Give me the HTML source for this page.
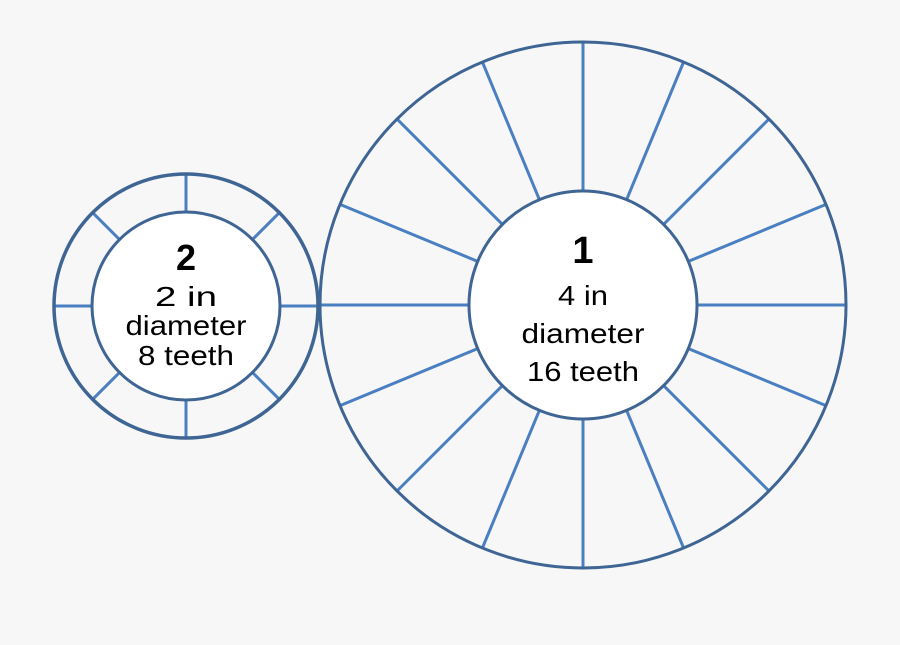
<!DOCTYPE html>
<html><head><meta charset="utf-8"><style>html,body{margin:0;padding:0;background:#f7f7f7}</style></head>
<body>
<svg width="900" height="640" viewBox="0 0 900 640" xmlns="http://www.w3.org/2000/svg" font-family="Liberation Sans, sans-serif">
<rect width="900" height="640" fill="#f7f7f7"/>
<g stroke="#4a7fc1" stroke-width="3">
<line x1="186" y1="174" x2="186" y2="438"/>
<line x1="54" y1="306" x2="318" y2="306"/>
<line x1="92.7" y1="212.7" x2="279.3" y2="399.3"/>
<line x1="279.3" y1="212.7" x2="92.7" y2="399.3"/>
</g>
<circle cx="186" cy="306" r="132" fill="none" stroke="#3f6594" stroke-width="3.5"/>
<circle cx="186" cy="306" r="94" fill="#fff" stroke="#3f6594" stroke-width="3"/>
<g stroke="#4a7fc1" stroke-width="3">
<line x1="583" y1="42" x2="583" y2="568"/>
<line x1="320" y1="305" x2="846" y2="305"/>
<line x1="482.4" y1="62.0" x2="683.6" y2="548.0"/>
<line x1="683.6" y1="62.0" x2="482.4" y2="548.0"/>
<line x1="397.0" y1="119.0" x2="769.0" y2="491.0"/>
<line x1="769.0" y1="119.0" x2="397.0" y2="491.0"/>
<line x1="340.0" y1="204.4" x2="826.0" y2="405.6"/>
<line x1="826.0" y1="204.4" x2="340.0" y2="405.6"/>
</g>
<circle cx="583" cy="305" r="263" fill="none" stroke="#3f6594" stroke-width="3"/>
<circle cx="583" cy="305" r="114" fill="#fff" stroke="#3f6594" stroke-width="3"/>
<g text-anchor="middle" fill="#000">
<text x="186" y="270" font-size="36" font-weight="bold">2</text>
<text x="186" y="306" font-size="28" textLength="62" lengthAdjust="spacingAndGlyphs">2 in</text>
<text x="186" y="335" font-size="28" textLength="121" lengthAdjust="spacingAndGlyphs">diameter</text>
<text x="186" y="365" font-size="28" textLength="96" lengthAdjust="spacingAndGlyphs">8 teeth</text>
<text x="583" y="263" font-size="38" font-weight="bold">1</text>
<text x="583" y="305" font-size="28" textLength="50" lengthAdjust="spacingAndGlyphs">4 in</text>
<text x="583" y="343" font-size="28" textLength="123" lengthAdjust="spacingAndGlyphs">diameter</text>
<text x="583" y="381" font-size="28" textLength="112" lengthAdjust="spacingAndGlyphs">16 teeth</text>
</g>
</svg>
</body></html>
